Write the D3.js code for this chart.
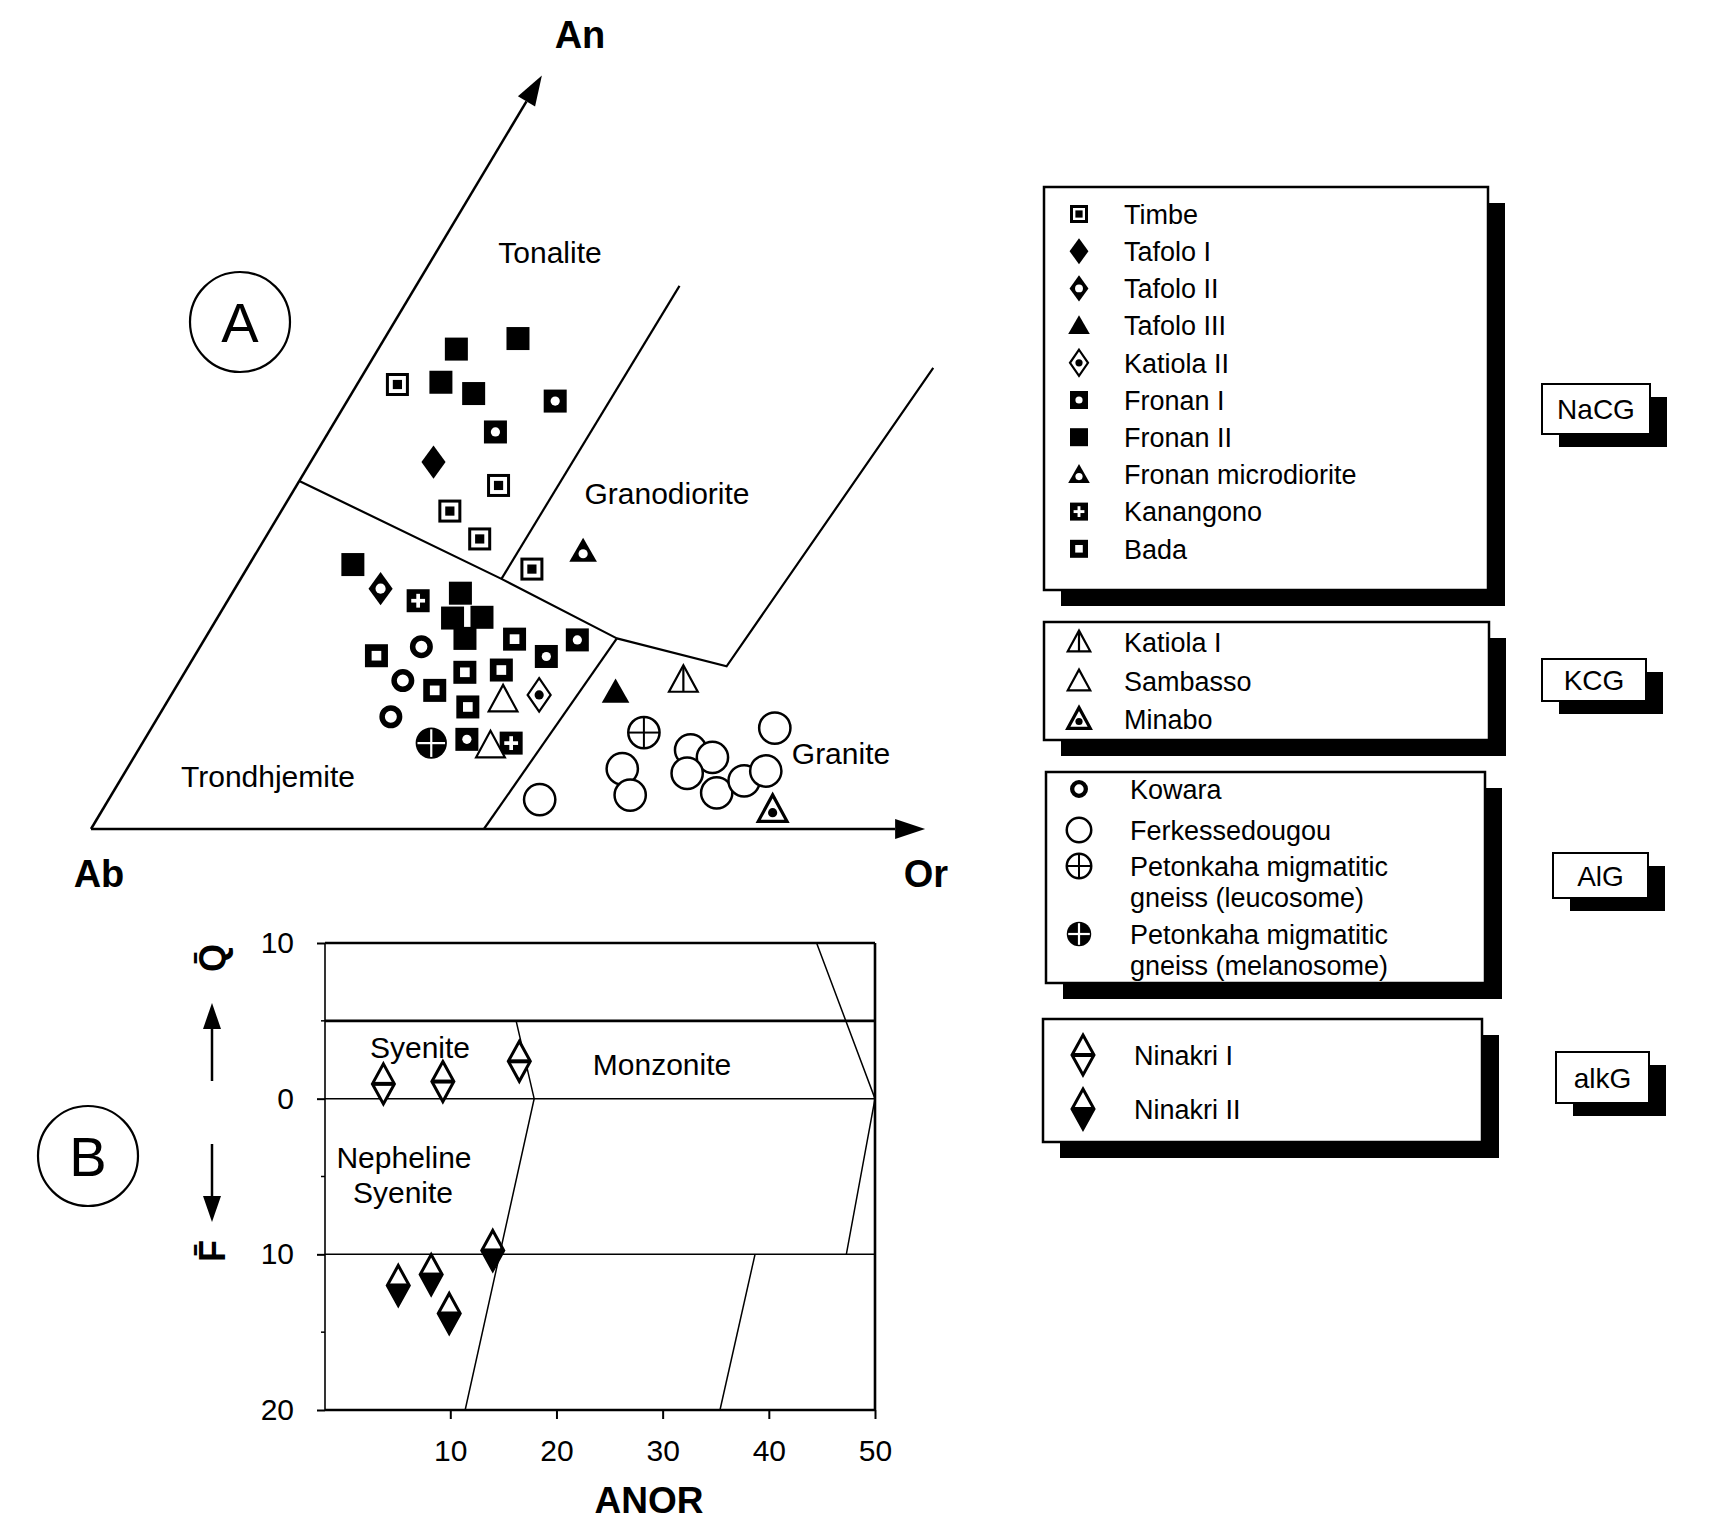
<!DOCTYPE html>
<html>
<head>
<meta charset="utf-8">
<script src="https://cdn.jsdelivr.net/npm/d3@7"></script>
<style>
  body { margin: 0; background: #fff; }
  svg text { font-family: "Liberation Sans", Arial, sans-serif; fill: #000; }
</style>
</head>
<body>
<div id="chart"></div>
<script>
// A: Ab-An-Or diagram, points as [An, Or] in % (Ab is the rest)
var timbe = [[59.0, 4.6], [45.6, 23.0], [42.2, 19.2], [38.5, 24.5], [34.5, 32.5]];
var tafoloI = [[48.7, 14.0]];
var tafoloII = [[31.9, 16.6]];
var tafoloIII = [[18.2, 50.4]];
var katiolaII = [[17.8, 41.9]];
var fronanI = [[56.8, 23.7], [52.7, 19.0], [25.1, 42.5], [22.9, 40.1], [11.9, 36.7]];
var fronanII = [[63.7, 8.9], [65.1, 15.2], [59.3, 9.4], [57.8, 13.9], [35.1, 11.8],
                [31.3, 26.0], [28.0, 26.8], [28.1, 30.1], [25.3, 29.6]];
var fronanMicrodiorite = [[36.9, 37.1]];
var kanangono = [[30.3, 21.7], [11.4, 42.0]];
var bada = [[23.0, 20.7], [25.2, 35.3], [20.8, 31.9], [21.1, 35.9], [18.4, 29.7], [16.2, 34.6]];
var katiolaI = [[19.8, 57.3]];
var sambasso = [[17.2, 38.1], [11.1, 39.8]];
var minabo = [[2.6, 76.3]];
var kowara = [[24.2, 25.2], [19.7, 25.4], [14.9, 26.5]];
var ferkessedougou = [[3.9, 49.1], [8.0, 56.4], [4.5, 59.1], [10.5, 62.9], [9.5, 65.9],
                      [7.4, 64.1], [4.8, 68.8], [6.4, 71.1], [7.7, 72.9], [13.4, 71.0]];
var petonkahaLeuco = [[12.8, 56.4]];
var petonkahaMelano = [[11.4, 32.9]];

// field boundaries in A, [An, Or]
var lineTrondTonal = [[46.2, 0], [33.2, 29.7], [25.3, 46.9]];
var lineTonalGrano = [[33.2, 29.7], [72.1, 30.0]];
var lineTrondGranite = [[0, 44.75], [25.3, 46.9]];
var lineGranoGranite = [[25.3, 46.9], [21.6, 61.3], [61.2, 64.5]];

// B: ANOR vs Q' (positive) / F' (negative)
var ninakriI = [[3.7, 0.95], [9.3, 1.1], [16.5, 2.4]];
var ninakriII = [[14.0, -9.75], [5.1, -12.0], [8.2, -11.3], [9.9, -13.8]];
var bLevels = [5, 0, -10];
var bSyeMon = [[16.2, 5], [17.9, 0], [11.4, -20]];
var bRightUpper = [[44.5, 10], [50, 0], [47.3, -10]];
var bLower = [[38.7, -10], [35.4, -20]];
var anorTicks = [10, 20, 30, 40, 50];
var qfTicks = [10, 0, -10, -20];

var W = 1721, H = 1523;
var svg = d3.select("#chart").append("svg")
    .attr("width", W)
    .attr("height", H);

/* ---------- symbols ---------- */
function tri(w, t) {
    return "M0," + (-t * 0.55) + "L" + (w / 2) + "," + (t * 0.45) + "L" + (-w / 2) + "," + (t * 0.45) + "Z";
}
function diamond(w, t) {
    return "M0," + (-t / 2) + "L" + (w / 2) + ",0L0," + (t / 2) + "L" + (-w / 2) + ",0Z";
}

function drawMark(g, type, s) {
    var h = s / 2;
    var blk = "#000", wht = "#fff";
    if (type == "timbe") {
        g.append("rect").attr("x", -h + 1.5).attr("y", -h + 1.5).attr("width", s - 3).attr("height", s - 3)
            .attr("fill", wht).attr("stroke", blk).attr("stroke-width", 3);
        g.append("rect").attr("x", -s * 0.2).attr("y", -s * 0.2).attr("width", s * 0.4).attr("height", s * 0.4).attr("fill", blk);
    } else if (type == "fronan2" || type == "fronan1" || type == "bada" || type == "kanangono") {
        g.append("rect").attr("x", -h).attr("y", -h).attr("width", s).attr("height", s).attr("fill", blk);
        if (type == "fronan1")
            g.append("circle").attr("r", s * 0.2).attr("fill", wht);
        if (type == "bada")
            g.append("rect").attr("x", -s * 0.21).attr("y", -s * 0.21).attr("width", s * 0.42).attr("height", s * 0.42).attr("fill", wht);
        if (type == "kanangono") {
            g.append("rect").attr("x", -s * 0.3).attr("y", -s * 0.08).attr("width", s * 0.6).attr("height", s * 0.16).attr("fill", wht);
            g.append("rect").attr("x", -s * 0.08).attr("y", -s * 0.3).attr("width", s * 0.16).attr("height", s * 0.6).attr("fill", wht);
        }
    } else if (type == "tafolo1" || type == "tafolo2") {
        g.append("path").attr("d", diamond(s * 1.05, s * 1.45)).attr("fill", blk);
        if (type == "tafolo2")
            g.append("circle").attr("r", s * 0.22).attr("fill", wht);
    } else if (type == "katiola2") {
        g.append("path").attr("d", diamond(s * 1.0, s * 1.45)).attr("fill", wht).attr("stroke", blk).attr("stroke-width", 2.2);
        g.append("circle").attr("r", s * 0.2).attr("fill", blk);
    } else if (type == "tafolo3") {
        g.append("path").attr("d", tri(s * 1.2, s * 1.05)).attr("fill", blk);
    } else if (type == "microdiorite") {
        g.append("path").attr("d", tri(s * 1.2, s * 1.05)).attr("fill", blk);
        g.append("circle").attr("cy", s * 0.12).attr("r", s * 0.2).attr("fill", wht);
    } else if (type == "katiola1" || type == "sambasso" || type == "minabo") {
        var sw = type == "minabo" ? 3.2 : 2.2;
        g.append("path").attr("d", tri(s * 1.25, s * 1.15)).attr("fill", wht).attr("stroke", blk)
            .attr("stroke-width", sw).attr("stroke-linejoin", "miter");
        if (type == "katiola1")
            g.append("line").attr("x1", 0).attr("x2", 0).attr("y1", -s * 0.55).attr("y2", s * 0.5)
                .attr("stroke", blk).attr("stroke-width", 2.2);
        if (type == "minabo")
            g.append("circle").attr("cy", s * 0.14).attr("r", s * 0.2).attr("fill", blk);
    } else if (type == "kowara") {
        g.append("circle").attr("r", s * 0.38).attr("fill", wht).attr("stroke", blk).attr("stroke-width", s * 0.24);
    } else if (type == "ferk" || type == "leuco") {
        g.append("circle").attr("r", s * 0.68).attr("fill", wht).attr("stroke", blk).attr("stroke-width", 2.5);
        if (type == "leuco") {
            g.append("line").attr("x1", -s * 0.68).attr("x2", s * 0.68).attr("stroke", blk).attr("stroke-width", 2);
            g.append("line").attr("y1", -s * 0.68).attr("y2", s * 0.68).attr("stroke", blk).attr("stroke-width", 2);
        }
    } else if (type == "melano") {
        g.append("circle").attr("r", s * 0.68).attr("fill", blk);
        g.append("line").attr("x1", -s * 0.6).attr("x2", s * 0.6).attr("stroke", wht).attr("stroke-width", 2.2);
        g.append("line").attr("y1", -s * 0.6).attr("y2", s * 0.6).attr("stroke", wht).attr("stroke-width", 2.2);
    } else if (type == "ninakri1" || type == "ninakri2") {
        var w = 22, t = 40;
        if (type == "ninakri2")
            g.append("path").attr("d", "M" + (-w / 2) + ",0L" + (w / 2) + ",0L0," + (t / 2) + "Z").attr("fill", blk);
        g.append("path").attr("d", diamond(w, t)).attr("fill", type == "ninakri2" ? "none" : wht)
            .attr("stroke", blk).attr("stroke-width", 3);
        g.append("line").attr("x1", -w / 2).attr("x2", w / 2).attr("stroke", blk).attr("stroke-width", 4);
    }
}

/* ---------- A: ternary ---------- */
var abX = 91, abY = 829, side = 878, tilt = 59.1 * Math.PI / 180;
var anScale = d3.scaleLinear().domain([0, 100]).range([0, side]);
var orScale = d3.scaleLinear().domain([0, 100]).range([0, side]);

function project(d) {
    var a = anScale(d[0]), o = orScale(d[1]);
    return [abX + o + a * Math.cos(tilt), abY - a * Math.sin(tilt)];
}

var ternary = svg.append("g").attr("class", "ternary");
var line = d3.line().x(function (d) { return project(d)[0]; }).y(function (d) { return project(d)[1]; });

function arrow(g, from, to) {
    var p0 = project(from), p1 = project(to);
    var dx = p1[0] - p0[0], dy = p1[1] - p0[1], len = Math.sqrt(dx * dx + dy * dy);
    var ux = dx / len, uy = dy / len, hl = 30, hw = 10;
    var bx = p1[0] - ux * hl, by = p1[1] - uy * hl;
    g.append("line").attr("x1", p0[0]).attr("y1", p0[1]).attr("x2", bx).attr("y2", by)
        .attr("stroke", "#000").attr("stroke-width", 2.5);
    g.append("path")
        .attr("d", "M" + p1[0] + "," + p1[1] + "L" + (bx - uy * hw) + "," + (by + ux * hw) + "L" + (bx + uy * hw) + "," + (by - ux * hw) + "Z")
        .attr("fill", "#000");
}
arrow(ternary, [0, 0], [100, 0]);
arrow(ternary, [0, 0], [0, 95]);

[lineTrondTonal, lineTonalGrano, lineTrondGranite, lineGranoGranite].forEach(function (l) {
    ternary.append("path").attr("d", line(l)).attr("fill", "none").attr("stroke", "#000").attr("stroke-width", 2.2);
});

// region names
var regionLabels = [["Tonalite", 550, 252], ["Granodiorite", 667, 493], ["Trondhjemite", 268, 776], ["Granite", 841, 753]];
ternary.selectAll(".region").data(regionLabels).enter().append("text")
    .attr("x", function (d) { return d[1]; })
    .attr("y", function (d) { return d[2]; })
    .attr("dy", "0.36em")
    .attr("text-anchor", "middle")
    .style("font-size", "30px")
    .text(function (d) { return d[0]; });

var cornerLabels = [["An", 580, 34], ["Ab", 99, 873], ["Or", 926, 873]];
ternary.selectAll(".corner").data(cornerLabels).enter().append("text")
    .attr("x", function (d) { return d[1]; })
    .attr("y", function (d) { return d[2]; })
    .attr("dy", "0.36em")
    .attr("text-anchor", "middle")
    .style("font-size", "38px")
    .style("font-weight", "bold")
    .text(function (d) { return d[0]; });

var seriesA = [
    {data: fronanII, type: "fronan2"},
    {data: timbe, type: "timbe"},
    {data: fronanI, type: "fronan1"},
    {data: bada, type: "bada"},
    {data: kanangono, type: "kanangono"},
    {data: kowara, type: "kowara"},
    {data: tafoloI, type: "tafolo1"},
    {data: tafoloII, type: "tafolo2"},
    {data: katiolaII, type: "katiola2"},
    {data: fronanMicrodiorite, type: "microdiorite"},
    {data: sambasso, type: "sambasso"},
    {data: petonkahaMelano, type: "melano"},
    {data: tafoloIII, type: "tafolo3"},
    {data: katiolaI, type: "katiola1"},
    {data: petonkahaLeuco, type: "leuco"},
    {data: ferkessedougou, type: "ferk"},
    {data: minabo, type: "minabo"}
];
seriesA.forEach(function (s) {
    s.data.forEach(function (d) {
        var p = project(d);
        var g = ternary.append("g").attr("transform", "translate(" + p[0] + "," + p[1] + ")");
        drawMark(g, s.type, 23);
    });
});

function circleLabel(cx, cy, txt) {
    svg.append("circle").attr("cx", cx).attr("cy", cy).attr("r", 50)
        .attr("fill", "none").attr("stroke", "#000").attr("stroke-width", 2.2);
    svg.append("text").attr("x", cx).attr("y", cy).attr("dy", "0.36em").attr("text-anchor", "middle")
        .style("font-size", "56px").text(txt);
}
circleLabel(240, 322, "A");
circleLabel(88, 1156, "B");

/* ---------- B: ANOR diagram ---------- */
var xB = d3.scaleLinear().domain([-1.8, 50]).range([325, 875]);
var yB = d3.scaleLinear().domain([10, -20]).range([943, 1410]);
var plotB = svg.append("g").attr("class", "plotB");

// frame
plotB.append("line").attr("x1", xB(-1.8)).attr("x2", xB(-1.8)).attr("y1", yB(10)).attr("y2", yB(-20))
    .attr("stroke", "#000").attr("stroke-width", 1.6);
plotB.append("line").attr("x1", xB(50)).attr("x2", xB(50)).attr("y1", yB(10)).attr("y2", yB(-20))
    .attr("stroke", "#000").attr("stroke-width", 2.6);
plotB.append("line").attr("x1", xB(-1.8)).attr("x2", xB(50)).attr("y1", yB(10)).attr("y2", yB(10))
    .attr("stroke", "#000").attr("stroke-width", 2.4);
plotB.append("line").attr("x1", xB(-1.8)).attr("x2", xB(50)).attr("y1", yB(-20)).attr("y2", yB(-20))
    .attr("stroke", "#000").attr("stroke-width", 2.6);
plotB.selectAll(".level").data(bLevels).enter().append("line")
    .attr("x1", xB(-1.8)).attr("x2", xB(50))
    .attr("y1", function (d) { return yB(d); })
    .attr("y2", function (d) { return yB(d); })
    .attr("stroke", "#000")
    .attr("stroke-width", function (d) { return d == 5 ? 2.6 : 1.5; });

var lineB = d3.line().x(function (d) { return xB(d[0]); }).y(function (d) { return yB(d[1]); });
[bSyeMon, bRightUpper, bLower].forEach(function (l) {
    plotB.append("path").attr("d", lineB(l)).attr("fill", "none").attr("stroke", "#000").attr("stroke-width", 1.5);
});

var xAxis = plotB.append("g").attr("transform", "translate(0," + yB(-20) + ")")
    .call(d3.axisBottom(xB).tickValues(anorTicks).tickSize(9).tickPadding(21));
var yAxis = plotB.append("g").attr("transform", "translate(" + xB(-1.8) + ",0)")
    .call(d3.axisLeft(yB).tickValues(qfTicks).tickFormat(function (d) { return Math.abs(d); }).tickSize(8).tickPadding(23));
[xAxis, yAxis].forEach(function (a) {
    a.select(".domain").remove();
    a.selectAll("line").attr("stroke-width", 2);
    a.selectAll("text").attr("font-family", null).style("font-size", "30px");
});
plotB.selectAll(".minor").data([5, -5, -15]).enter().append("line")
    .attr("x1", xB(-1.8) - 4).attr("x2", xB(-1.8))
    .attr("y1", function (d) { return yB(d); })
    .attr("y2", function (d) { return yB(d); })
    .attr("stroke", "#000").attr("stroke-width", 1.5);

var fieldLabels = [["Syenite", 420, 1047], ["Monzonite", 662, 1064], ["Nepheline", 404, 1157], ["Syenite", 403, 1192]];
plotB.selectAll(".field").data(fieldLabels).enter().append("text")
    .attr("x", function (d) { return d[1]; })
    .attr("y", function (d) { return d[2]; })
    .attr("dy", "0.36em")
    .attr("text-anchor", "middle")
    .style("font-size", "30px")
    .text(function (d) { return d[0]; });

plotB.append("text").attr("x", 649).attr("y", 1500).attr("dy", "0.36em").attr("text-anchor", "middle")
    .style("font-size", "37px").style("font-weight", "bold").text("ANOR");

// Q' / F' label with arrows
function vLabel(x, y, txt) {
    plotB.append("text").attr("transform", "translate(" + x + "," + y + ") rotate(-90)")
        .attr("dy", "0.36em").attr("text-anchor", "middle")
        .style("font-size", "36px").style("font-weight", "bold").text(txt);
}
vLabel(212, 958, "Q\u0304");
vLabel(212, 1251, "F\u0304");
function vArrow(x, y0, y1) {
    var dir = y1 > y0 ? 1 : -1;
    plotB.append("line").attr("x1", x).attr("x2", x).attr("y1", y0).attr("y2", y1 - dir * 24)
        .attr("stroke", "#000").attr("stroke-width", 2.5);
    plotB.append("path").attr("d", "M" + x + "," + y1 + "L" + (x - 9) + "," + (y1 - dir * 26) + "L" + (x + 9) + "," + (y1 - dir * 26) + "Z")
        .attr("fill", "#000");
}
vArrow(212, 1081, 1003);
vArrow(212, 1144, 1222);

[{data: ninakriI, type: "ninakri1"}, {data: ninakriII, type: "ninakri2"}].forEach(function (s) {
    s.data.forEach(function (d) {
        var g = plotB.append("g").attr("transform", "translate(" + xB(d[0]) + "," + yB(d[1]) + ")");
        drawMark(g, s.type, 22);
    });
});

/* ---------- legends ---------- */
function shadowBox(x, y, w, h, ox, oy, sw) {
    svg.append("rect").attr("x", x + ox).attr("y", y + oy).attr("width", w).attr("height", h).attr("fill", "#000");
    svg.append("rect").attr("x", x).attr("y", y).attr("width", w).attr("height", h)
        .attr("fill", "#fff").attr("stroke", "#000").attr("stroke-width", sw);
}

function legend(x, y, w, h, symX, txtX, entries, rows) {
    shadowBox(x, y, w, h, 17, 16, 2.5);
    entries.forEach(function (e, i) {
        var g = svg.append("g").attr("transform", "translate(" + symX + "," + rows[i] + ")");
        drawMark(g, e[1], 18);
        var t = svg.append("text").attr("x", txtX).attr("y", rows[i]).attr("dy", "0.36em").style("font-size", "27px");
        e[0].split("\n").forEach(function (part, j) {
            t.append("tspan").attr("x", txtX).attr("dy", j == 0 ? "0.36em" : "1.16em").text(part);
        });
    });
}

function tag(x, y, w, h, txt) {
    shadowBox(x, y, w, h, 17, 13, 2);
    svg.append("text").attr("x", x + w / 2).attr("y", y + h / 2).attr("dy", "0.36em").attr("text-anchor", "middle")
        .style("font-size", "28px").text(txt);
}

var legendNaCG = [["Timbe", "timbe"], ["Tafolo I", "tafolo1"], ["Tafolo II", "tafolo2"], ["Tafolo III", "tafolo3"],
    ["Katiola II", "katiola2"], ["Fronan I", "fronan1"], ["Fronan II", "fronan2"], ["Fronan microdiorite", "microdiorite"],
    ["Kanangono", "kanangono"], ["Bada", "bada"]];
var legendKCG = [["Katiola I", "katiola1"], ["Sambasso", "sambasso"], ["Minabo", "minabo"]];
var legendAlG = [["Kowara", "kowara"], ["Ferkessedougou", "ferk"],
    ["Petonkaha migmatitic\ngneiss (leucosome)", "leuco"], ["Petonkaha migmatitic\ngneiss (melanosome)", "melano"]];
var legendAlkG = [["Ninakri I", "ninakri1"], ["Ninakri II", "ninakri2"]];

legend(1044, 187, 444, 403, 1079, 1124, legendNaCG, d3.range(10).map(function (i) { return 214 + i * 37.2; }));
tag(1542, 384, 108, 50, "NaCG");

legend(1044, 622, 445, 118, 1079, 1124, legendKCG, [642, 681, 719]);
tag(1542, 659, 104, 42, "KCG");

legend(1046, 772, 439, 211, 1079, 1130, legendAlG, [789, 830, 866, 934]);
tag(1553, 853, 95, 45, "AlG");

legend(1043, 1019, 439, 123, 1083, 1134, legendAlkG, [1055, 1109]);
tag(1556, 1052, 93, 51, "alkG");
</script>
</body>
</html>
